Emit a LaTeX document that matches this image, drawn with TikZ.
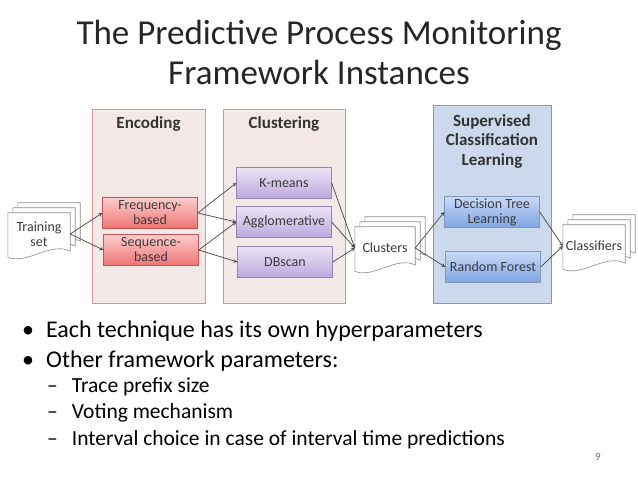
\documentclass[tikz,border=0pt]{standalone}
\usepackage{fontspec}
\setmainfont{Carlito}
\usetikzlibrary{positioning}
\usetikzlibrary{calc}
\definecolor{cpanelred}{RGB}{245,233,232}
\definecolor{cpaneledge}{RGB}{212,150,150}
\definecolor{credtop}{RGB}{252,205,205}
\definecolor{credbot}{RGB}{240,115,115}
\definecolor{crededge}{RGB}{200,85,85}
\definecolor{cpurtop}{RGB}{236,228,245}
\definecolor{cpurbot}{RGB}{188,168,222}
\definecolor{cpuredge}{RGB}{150,130,185}
\definecolor{cpanelblue}{RGB}{204,217,236}
\definecolor{cblueedge}{RGB}{130,152,192}
\definecolor{cbluetop}{RGB}{200,218,248}
\definecolor{cbluebot}{RGB}{128,164,226}
\definecolor{cboxtext}{RGB}{60,60,60}
\definecolor{carrow}{RGB}{70,70,70}
\tikzset{
  panel/.style={draw=cpaneledge,fill=cpanelred,line width=1pt},
  panelblue/.style={draw=cblueedge,fill=cpanelblue,line width=1pt},
  paneltitle/.style={font=\fontsize{17}{19.5}\selectfont\bfseries,text=black!80,align=center},
  redbox/.style={draw=crededge,top color=credtop,bottom color=credbot,minimum width=95pt,minimum height=31pt,
    text=cboxtext,font=\fontsize{14}{15}\selectfont,align=center,inner sep=1pt},
  purbox/.style={redbox,draw=cpuredge,top color=cpurtop,bottom color=cpurbot},
  bluebox/.style={redbox,draw=cblueedge,top color=cbluetop,bottom color=cbluebot},
  docbox/.style={minimum width=#1,minimum height=42pt,inner sep=0pt},
  doclabel/.style={text=cboxtext,font=\fontsize{14}{15}\selectfont,align=center},
  sheet/.style={draw=black!45,fill=white,line width=0.6pt},
  flow/.style={-stealth,draw=carrow,line width=0.7pt},
  bullet/.style={anchor=west,font=\fontsize{24}{26}\selectfont,inner sep=0pt},
  subbullet/.style={bullet,font=\fontsize{21.5}{24}\selectfont}
}
\newcommand{\sheet}[2]{%
  \draw[sheet] ($(#1.north west)+(#2)$) -- ($(#1.north east)+(#2)$) -- ($(#1.south east)+(#2)+(0,-4)$)
    .. controls ($(#1.south)+(#2)+(12,-14)$) and ($(#1.south)+(#2)+(-12,10)$) .. ($(#1.south west)+(#2)+(0,2)$) -- cycle;}
\begin{document}
\begin{tikzpicture}[x=1pt,y=-1pt]
  \useasboundingbox[fill=white] (0,0) rectangle (638,478);
  % title
  \node[font=\fontsize{35}{40}\selectfont,align=center,text=black!85] (title) at (319,52)
    {The Predictive Process Monitoring\\Framework Instances};
  % panels
  \path[panel] (92,110) rectangle (205,304);
  \path[panel] (223,110) rectangle (345,304);
  \path[panelblue] (433,106) rectangle (551,304);
  \node[paneltitle] (enctitle) at (148.5,124) {Encoding};
  \node[paneltitle] (clutitle) at (284,124) {Clustering};
  \node[paneltitle] (suptitle) at (492,141) {Supervised\\Classification\\Learning};
  % boxes
  \node[redbox] (freq) at (150,213) {Frequency-\\based};
  \node[redbox] (seq) at (151,250) {Sequence-\\based};
  \node[purbox] (kmeans) at (284,183) {K-means};
  \node[purbox] (agglo) at (284,222) {Agglomerative};
  \node[purbox] (dbscan) at (285,262) {DBscan};
  \node[bluebox] (dtree) at (492,212) {Decision Tree\\Learning};
  \node[bluebox] (forest) at (493,267) {Random Forest};
  % documents
  \node[docbox=62pt] (train) at (39,234) {};
  \sheet{train}{10,-10}
  \sheet{train}{5,-5}
  \sheet{train}{0,0}
  \node[doclabel] (trainlabel) at (train) {Training\\set};
  \node[docbox=60pt] (clusters) at (385,248) {};
  \sheet{clusters}{10,-10}
  \sheet{clusters}{5,-5}
  \sheet{clusters}{0,0}
  \node[doclabel] (clusterslabel) at (clusters) {Clusters};
  \node[docbox=62pt] (classif) at (594,246) {};
  \sheet{classif}{10,-10}
  \sheet{classif}{5,-5}
  \sheet{classif}{0,0}
  \node[doclabel] (classiflabel) at (classif) {Classifiers};
  % connectors
  \draw[flow] (train.east) -- (freq.west);
  \draw[flow] (train.east) -- (seq.west);
  \draw[flow] (freq.east) -- (kmeans.west);
  \draw[flow] (freq.east) -- (agglo.west);
  \draw[flow] (seq.east) -- (agglo.west);
  \draw[flow] (seq.east) -- (dbscan.west);
  \draw[flow] (kmeans.east) -- (clusters.west);
  \draw[flow] (agglo.east) -- (clusters.west);
  \draw[flow] (dbscan.east) -- (clusters.west);
  \draw[flow] (clusters.east) -- (dtree.west);
  \draw[flow] (clusters.east) -- (forest.west);
  \draw[flow] (dtree.east) -- (classif.west);
  \draw[flow] (forest.east) -- (classif.west);
  % bullets
  \node[bullet] (b1) at (22,331) {\textbullet\hspace{12pt}Each technique has its own hyperparameters};
  \node[bullet] (b2) at (22,361) {\textbullet\hspace{12pt}Other framework parameters:};
  \node[subbullet] (b3) at (47,387) {--\hspace{14pt}Trace prefix size};
  \node[subbullet] (b4) at (47,413) {--\hspace{14pt}Voting mechanism};
  \node[subbullet] (b5) at (47,440) {--\hspace{14pt}Interval choice in case of interval time predictions};
  \node[font=\fontsize{11}{12}\selectfont,text=black!55] (page) at (598,457) {9};
\end{tikzpicture}
\end{document}
